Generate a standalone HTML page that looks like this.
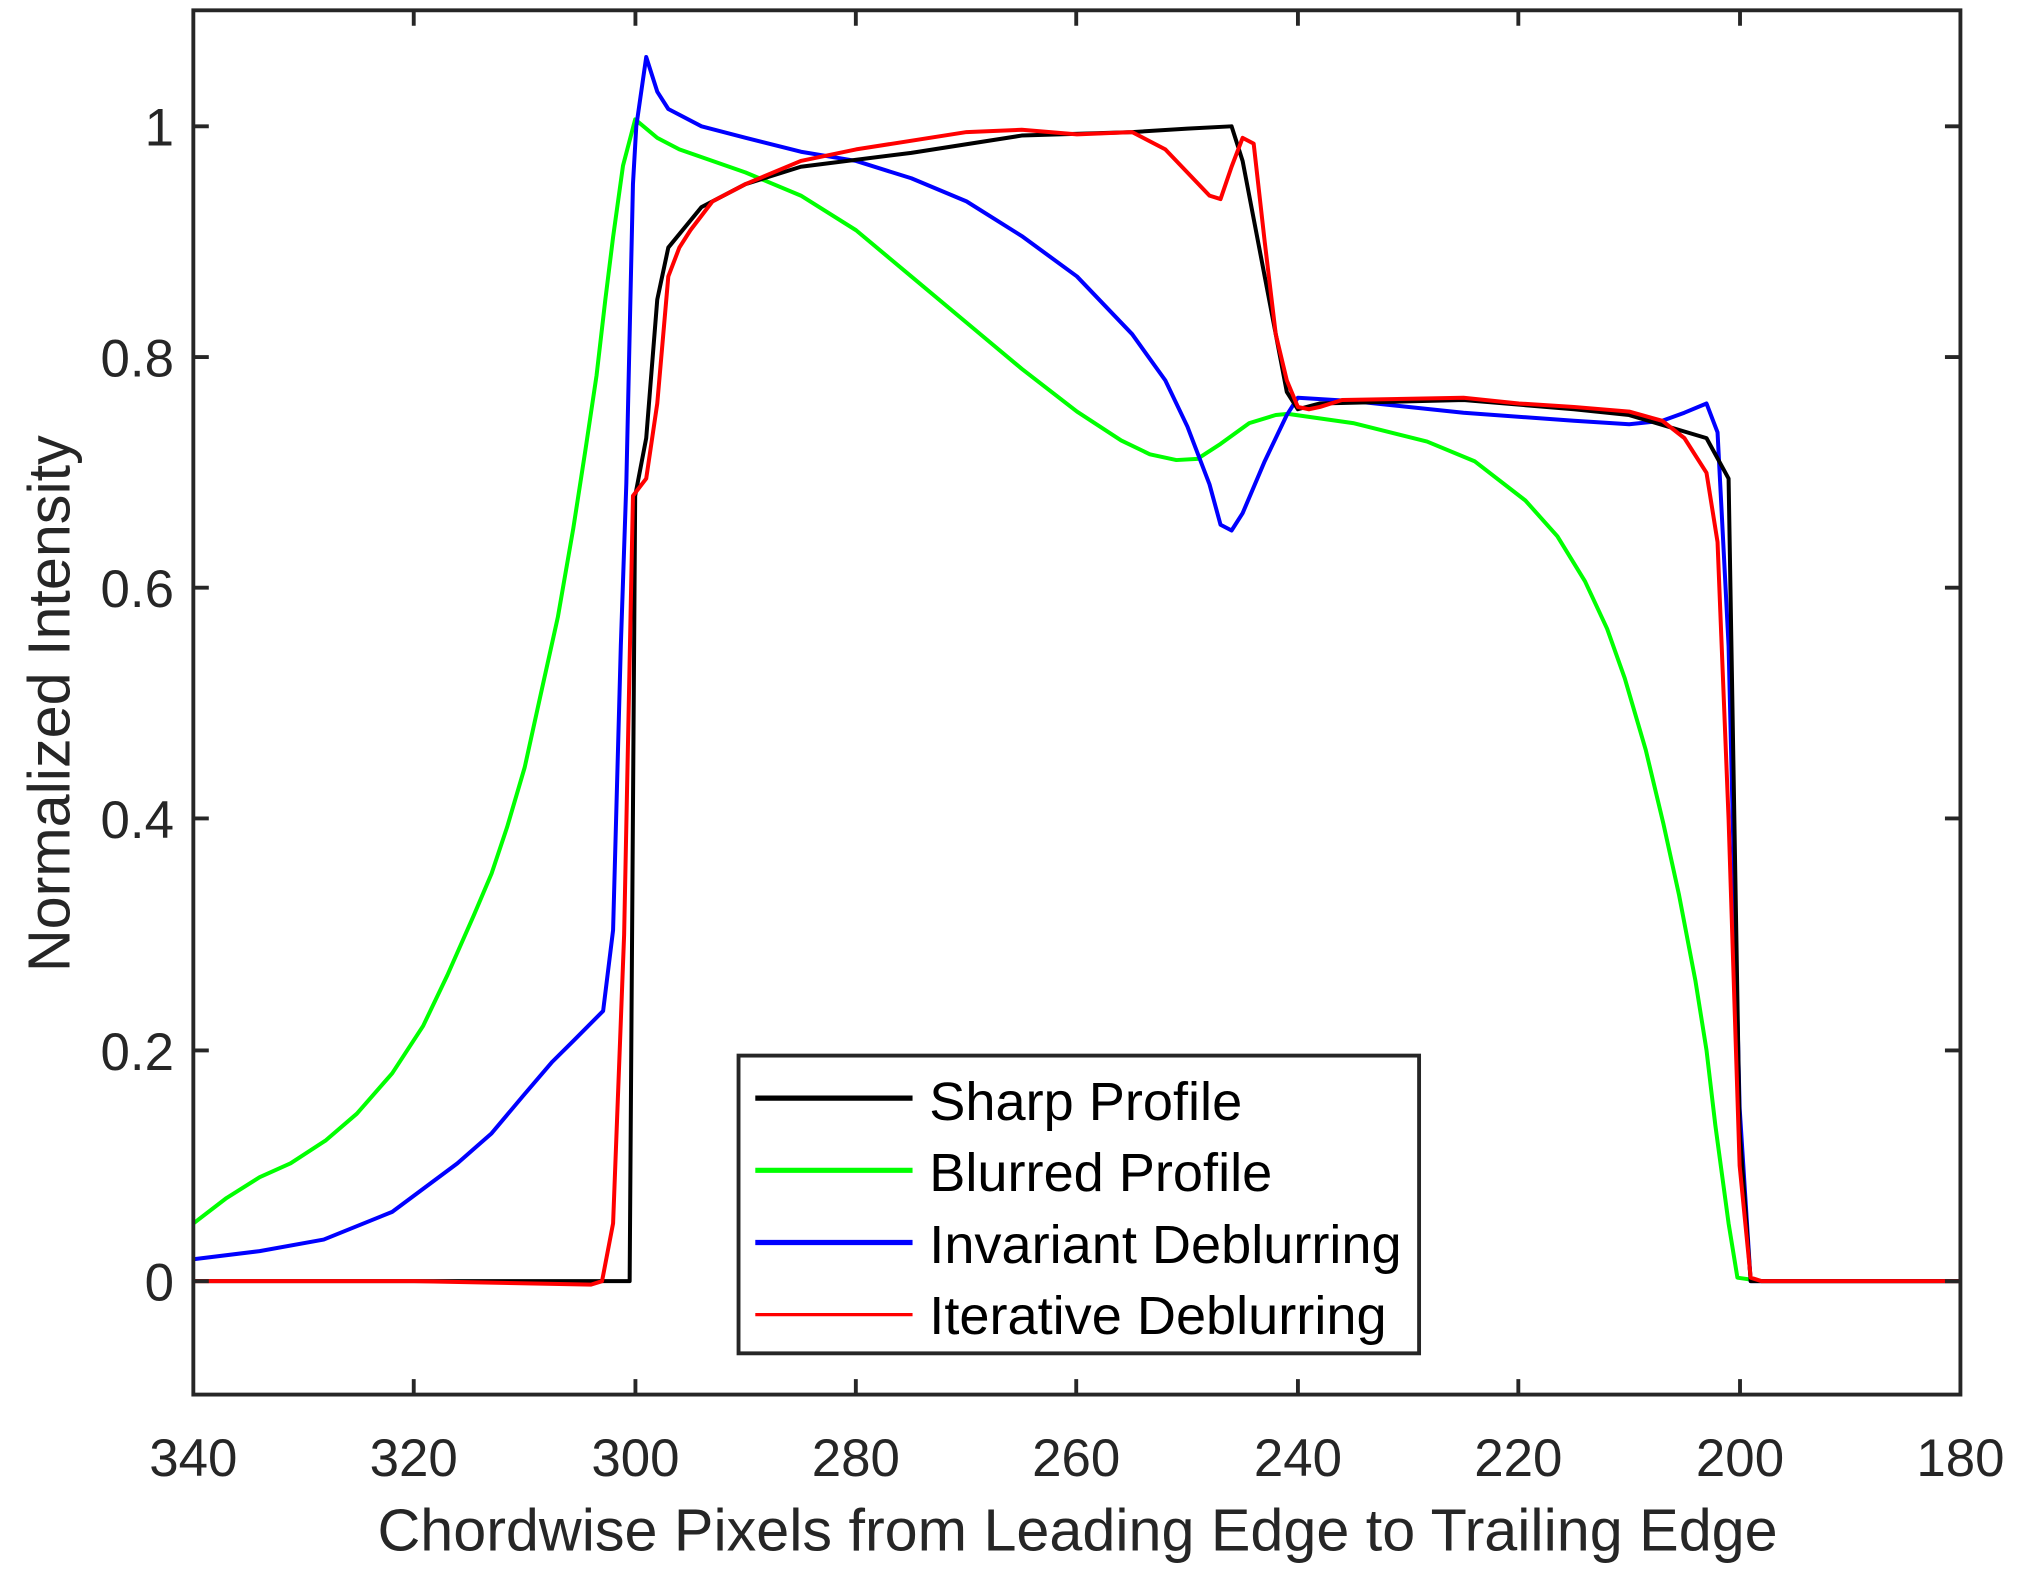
<!DOCTYPE html>
<html><head><meta charset="utf-8"><style>html,body{margin:0;padding:0;background:#fff}svg{display:block}</style></head>
<body>
<svg width="2021" height="1595" viewBox="0 0 1568 1237.5" preserveAspectRatio="none" xmlns="http://www.w3.org/2000/svg" font-family="Liberation Sans, Arial, sans-serif" fill="#262626">
<rect width="1568" height="1237.5" fill="#fff"/>
<g fill="none" stroke-linejoin="round" transform="matrix(-8.569 0 0 -896 3063.5 994)">
<polyline vector-effect="non-scaling-stroke" stroke="#00ff00" stroke-width="4" points="340,0.05 337,0.072 334,0.09 331.2,0.102 328,0.122 325.2,0.145 322,0.18 319.2,0.221 317,0.265 314.6,0.317 313,0.353 311.6,0.393 310,0.445 308.6,0.506 307,0.575 305.6,0.652 304.5,0.72 303.5,0.784 302.7,0.85 302,0.904 301.1,0.966 300,1.006 298,0.99 296,0.98 290,0.96 285,0.94 280,0.91 275,0.87 270,0.83 265,0.79 260,0.753 256,0.728 253.4,0.716 251,0.711 249.1,0.712 247,0.725 244.4,0.743 242,0.75 240.9,0.751 235,0.743 228.3,0.727 224,0.71 219.4,0.676 216.5,0.645 214,0.606 212,0.565 210.4,0.522 208.5,0.46 206.9,0.396 205.5,0.335 204,0.26 203,0.2 202.2,0.135 201,0.05 200.2,0.003 198,0 180,0"/>
<polyline vector-effect="non-scaling-stroke" stroke="#0000ff" stroke-width="4" points="340,0.019 334,0.026 328.2,0.036 322,0.06 316.1,0.102 313,0.128 310.1,0.161 307.5,0.19 305.6,0.208 302.9,0.234 302,0.304 301.3,0.55 300.8,0.691 300.2,0.95 299.9,1.0 299,1.06 298,1.03 297,1.015 294,1.0 290,0.99 285,0.978 280,0.97 275,0.955 270,0.935 265,0.905 260,0.87 255,0.82 252,0.78 250,0.74 248,0.69 247,0.655 246,0.65 245,0.665 243,0.71 241,0.75 240,0.765 235,0.762 225,0.752 215,0.745 210,0.742 207,0.745 205,0.752 203,0.76 202,0.735 201,0.55 200,0.15 199,0 180,0"/>
<polyline vector-effect="non-scaling-stroke" stroke="#000" stroke-width="4" points="340,0 301,0 300.5,0 300,0.68 299,0.73 298,0.85 297,0.895 294,0.93 290,0.95 285,0.965 275,0.977 265,0.992 255,0.995 250,0.998 246,1.0 245,0.97 243,0.87 241,0.77 240,0.755 238,0.76 225,0.763 215,0.755 210,0.75 203,0.73 201,0.695 200,0.13 199,0 180,0"/>
<polyline vector-effect="non-scaling-stroke" stroke="#ff0000" stroke-width="4" points="340,0 320,0 304,-0.003 303,0 302,0.05 301,0.3 300.2,0.68 299,0.695 298,0.76 297,0.87 296,0.895 295,0.91 293,0.935 290,0.95 285,0.97 280,0.98 270,0.995 265,0.997 260,0.993 255,0.995 252,0.98 250,0.96 248,0.94 247,0.937 246,0.965 245,0.99 244,0.985 243,0.9 242,0.82 241,0.78 240,0.757 239,0.755 238,0.757 236,0.763 225,0.765 220,0.76 215,0.757 210,0.753 207,0.745 205,0.73 203,0.7 202,0.64 201,0.4 200,0.1 199,0.003 198,0 180,0"/>
</g>
<g stroke="#262626" stroke-width="3" fill="none">
<rect x="150" y="8" width="1371" height="1074"/>
<path d="M321,1082v-12M493,1082v-12M664,1082v-12M835,1082v-12M1007,1082v-12M1178,1082v-12M1350,1082v-12M321,8v12M493,8v12M664,8v12M835,8v12M1007,8v12M1178,8v12M1350,8v12"/>
<path d="M150,994h12M150,815h12M150,635h12M150,456h12M150,277h12M150,98h12M1521,994h-12M1521,815h-12M1521,635h-12M1521,456h-12M1521,277h-12M1521,98h-12"/>
</g>
<g font-size="41" text-anchor="middle">
<text x="150" y="1145">340</text><text x="321" y="1145">320</text><text x="493" y="1145">300</text><text x="664" y="1145">280</text><text x="835" y="1145">260</text><text x="1007" y="1145">240</text><text x="1178" y="1145">220</text><text x="1350" y="1145">200</text><text x="1521" y="1145">180</text>
</g>
<g font-size="41" text-anchor="end">
<text x="135" y="1009">0</text><text x="135" y="830">0.2</text><text x="135" y="650">0.4</text><text x="135" y="471">0.6</text><text x="135" y="292">0.8</text><text x="135" y="113">1</text>
</g>
<text x="836" y="1203" font-size="46" text-anchor="middle">Chordwise Pixels from Leading Edge to Trailing Edge</text>
<text transform="translate(54,546) rotate(-90)" font-size="46" text-anchor="middle">Normalized Intensity</text>
<rect x="573" y="819" width="528" height="231" fill="#fff" stroke="#262626" stroke-width="3"/>
<g stroke-width="4">
<line x1="586" y1="852" x2="708" y2="852" stroke="#000"/>
<line x1="586" y1="908" x2="708" y2="908" stroke="#00ff00"/>
<line x1="586" y1="964" x2="708" y2="964" stroke="#0000ff"/>
<line x1="586" y1="1020" x2="708" y2="1020" stroke="#ff0000" stroke-width="2.5"/>
</g>
<g font-size="42" fill="#000">
<text x="721" y="869">Sharp Profile</text>
<text x="721" y="924">Blurred Profile</text>
<text x="721" y="980">Invariant Deblurring</text>
<text x="721" y="1035">Iterative Deblurring</text>
</g>
</svg>
</body></html>
